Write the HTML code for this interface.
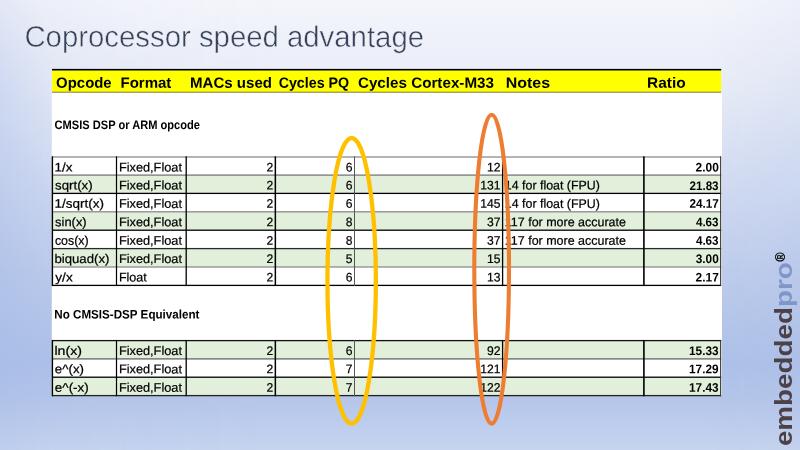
<!DOCTYPE html>
<html lang="en"><head><meta charset="utf-8"><title>Coprocessor speed advantage</title>
<style>
html,body{margin:0;padding:0}
body{width:800px;height:450px;position:relative;overflow:hidden;font-family:"Liberation Sans",sans-serif;background:#d3dcf2;color:#000}
.t{position:absolute;white-space:nowrap;line-height:1;transform-origin:0 0;display:block}
.b{font-weight:bold}
.ti{-webkit-text-stroke:0.5px #eef0f9}
.c{-webkit-text-stroke:0.22px #000}
svg{position:absolute;left:0;top:0}
#logo{position:absolute;left:0;top:0;white-space:nowrap;line-height:1;font-weight:bold;transform-origin:0 0;color:#4d4148}
#logo i{font-style:normal;color:#8096c8}
#reg{position:absolute;left:0;top:0;font-size:12.3px;line-height:1;transform-origin:0 0;color:#000;-webkit-text-stroke:0.35px #000}
</style></head><body>
<svg width="800" height="450" viewBox="0 0 800 450">
<defs>
 <linearGradient id="gv" x1="0" y1="0" x2="0" y2="1">
  <stop offset="0" stop-color="#f4f5fb"/>
  <stop offset="0.2" stop-color="#e8ecf7"/>
  <stop offset="0.4" stop-color="#d3dcf2"/>
  <stop offset="0.6" stop-color="#bfcdec"/>
  <stop offset="0.733" stop-color="#b3c5e9"/>
  <stop offset="0.811" stop-color="#aec1e8"/>
  <stop offset="0.889" stop-color="#b5c6ea"/>
  <stop offset="1" stop-color="#c6d4ef"/>
 </linearGradient>
 <linearGradient id="gl" x1="0" y1="0" x2="800" y2="0" gradientUnits="userSpaceOnUse">
  <stop offset="0" stop-color="#96afe4" stop-opacity="0.31"/>
  <stop offset="0.0625" stop-color="#96afe4" stop-opacity="0.115"/>
  <stop offset="0.16" stop-color="#96afe4" stop-opacity="0.035"/>
  <stop offset="0.35" stop-color="#96afe4" stop-opacity="0"/>
  <stop offset="0.88" stop-color="#96afe4" stop-opacity="0"/>
  <stop offset="1" stop-color="#96afe4" stop-opacity="0.1"/>
 </linearGradient>
 <linearGradient id="gm" x1="0" y1="0" x2="0" y2="1">
  <stop offset="0" stop-color="#fff" stop-opacity="0.55"/>
  <stop offset="0.2" stop-color="#fff" stop-opacity="1"/>
  <stop offset="0.6" stop-color="#fff" stop-opacity="0.95"/>
  <stop offset="0.8" stop-color="#fff" stop-opacity="0.55"/>
  <stop offset="1" stop-color="#fff" stop-opacity="0.45"/>
 </linearGradient>
 <mask id="mk"><rect width="800" height="450" fill="url(#gm)"/></mask>
</defs>
<rect width="800" height="450" fill="url(#gv)"/>
<rect width="800" height="450" fill="url(#gl)" mask="url(#mk)"/>
<rect x="51.80" y="69.00" width="669.40" height="326.90" fill="#fff"/>
<rect x="720.70" y="92.00" width="1.30" height="303.90" fill="#fff"/>
<rect x="52.00" y="70.30" width="669.20" height="21.90" fill="#ffff00"/>
<rect x="52.00" y="68.90" width="669.20" height="1.60" fill="#000"/>
<rect x="52.00" y="91.70" width="669.20" height="0.90" fill="#6a6a30"/>
<rect x="52.00" y="175.10" width="669.20" height="18.30" fill="#e2efda"/>
<rect x="52.00" y="211.80" width="669.20" height="18.40" fill="#e2efda"/>
<rect x="52.00" y="248.60" width="669.20" height="18.40" fill="#e2efda"/>
<rect x="52.00" y="340.60" width="669.20" height="18.30" fill="#e2efda"/>
<rect x="52.00" y="377.20" width="669.20" height="18.40" fill="#e2efda"/>
<rect x="52.00" y="156.35" width="669.20" height="1.30" fill="#8c8c8c"/>
<rect x="52.00" y="174.45" width="669.20" height="1.30" fill="#787878"/>
<rect x="52.00" y="192.75" width="669.20" height="1.30" fill="#000"/>
<rect x="52.00" y="211.15" width="669.20" height="1.30" fill="#8a8a8a"/>
<rect x="52.00" y="229.55" width="669.20" height="1.30" fill="#000"/>
<rect x="52.00" y="247.95" width="669.20" height="1.30" fill="#2a2a2a"/>
<rect x="52.00" y="266.35" width="669.20" height="1.30" fill="#8c8c8c"/>
<rect x="52.00" y="284.75" width="669.20" height="1.30" fill="#000"/>
<rect x="52.00" y="339.95" width="669.20" height="1.30" fill="#111"/>
<rect x="52.00" y="358.25" width="669.20" height="1.30" fill="#666"/>
<rect x="52.00" y="376.55" width="669.20" height="1.30" fill="#000"/>
<rect x="52.00" y="394.95" width="669.20" height="1.30" fill="#222"/>
<rect x="51.70" y="156.35" width="1.40" height="129.70" fill="#000"/>
<rect x="720.10" y="156.35" width="1.10" height="129.70" fill="#333"/>
<rect x="115.90" y="156.35" width="1.20" height="129.70" fill="#000"/>
<rect x="185.55" y="156.35" width="1.30" height="129.70" fill="#000"/>
<rect x="274.60" y="156.35" width="1.50" height="129.70" fill="#000"/>
<rect x="354.00" y="156.35" width="1.00" height="129.70" fill="#555"/>
<rect x="501.95" y="156.35" width="1.30" height="129.70" fill="#000"/>
<rect x="643.10" y="156.35" width="1.60" height="129.70" fill="#000"/>
<rect x="51.70" y="339.95" width="1.40" height="56.30" fill="#000"/>
<rect x="720.10" y="339.95" width="1.10" height="56.30" fill="#333"/>
<rect x="115.90" y="339.95" width="1.20" height="56.30" fill="#000"/>
<rect x="185.55" y="339.95" width="1.30" height="56.30" fill="#000"/>
<rect x="274.60" y="339.95" width="1.50" height="56.30" fill="#000"/>
<rect x="354.00" y="339.95" width="1.00" height="56.30" fill="#555"/>
<rect x="501.95" y="339.95" width="1.30" height="56.30" fill="#000"/>
<rect x="643.10" y="339.95" width="1.60" height="56.30" fill="#000"/>
</svg>
<span class="t ti" style="left:24px;top:21px;font-size:29.65px;transform:translate(0.42px,0.70px) rotate(0.03deg) scaleX(0.9899);color:#36435a;">Coprocessor speed advantage</span>
<span class="t b" style="left:56px;top:75px;font-size:14.83px;transform:translate(0.13px,0.70px) rotate(0.03deg) scaleX(1.0063);">Opcode</span>
<span class="t b" style="left:120px;top:75px;font-size:14.83px;transform:translate(0.46px,0.70px) rotate(0.03deg) scaleX(1.0133);">Format</span>
<span class="t b" style="left:189px;top:75px;font-size:14.83px;transform:translate(0.96px,0.70px) rotate(0.03deg) scaleX(1.0158);">MACs used</span>
<span class="t b" style="left:278px;top:75px;font-size:14.83px;transform:translate(0.65px,0.70px) rotate(0.03deg) scaleX(0.9618);">Cycles PQ</span>
<span class="t b" style="left:357px;top:75px;font-size:14.83px;transform:translate(0.92px,0.70px) rotate(0.03deg) scaleX(1.0256);">Cycles Cortex-M33</span>
<span class="t b" style="left:505px;top:75px;font-size:14.83px;transform:translate(0.70px,0.70px) rotate(0.03deg) scaleX(1.0766);">Notes</span>
<span class="t b" style="left:647px;top:75px;font-size:14.83px;transform:translate(0.04px,0.70px) rotate(0.03deg) scaleX(1.0406);">Ratio</span>
<span class="t b" style="left:54px;top:119px;font-size:12.35px;transform:translate(0.55px,0.00px) rotate(0.03deg) scaleX(0.8982);">CMSIS DSP or ARM opcode</span>
<span class="t b" style="left:54px;top:308px;font-size:12.35px;transform:translate(0.27px,0.50px) rotate(0.03deg) scaleX(0.9420);">No CMSIS-DSP Equivalent</span>
<span class="t c" style="left:54px;top:161px;font-size:12.5px;transform:translate(0.46px,0.45px) rotate(0.03deg) scaleX(1.0759);">1/x</span>
<span class="t c" style="left:118px;top:161px;font-size:12.5px;transform:translate(0.90px,0.45px) rotate(0.03deg) scaleX(1.0198);">Fixed,Float</span>
<span class="t c" style="left:266px;top:161px;font-size:12.5px;transform:translate(0.55px,0.45px) rotate(0.03deg) scaleX(0.9700);">2</span>
<span class="t c" style="left:345px;top:161px;font-size:12.5px;transform:translate(0.75px,0.45px) rotate(0.03deg) scaleX(0.9700);">6</span>
<span class="t c" style="left:487px;top:161px;font-size:12.5px;transform:translate(0.00px,0.45px) rotate(0.03deg) scaleX(0.9700);">12</span>
<span class="t b" style="left:695px;top:161px;font-size:12.5px;transform:translate(0.53px,0.45px) rotate(0.03deg) scaleX(0.9560);">2.00</span>
<span class="t c" style="left:55px;top:179px;font-size:12.5px;transform:translate(0.09px,0.55px) rotate(0.03deg) scaleX(1.0587);">sqrt(x)</span>
<span class="t c" style="left:118px;top:179px;font-size:12.5px;transform:translate(0.90px,0.55px) rotate(0.03deg) scaleX(1.0198);">Fixed,Float</span>
<span class="t c" style="left:266px;top:179px;font-size:12.5px;transform:translate(0.55px,0.55px) rotate(0.03deg) scaleX(0.9700);">2</span>
<span class="t c" style="left:345px;top:179px;font-size:12.5px;transform:translate(0.75px,0.55px) rotate(0.03deg) scaleX(0.9700);">6</span>
<span class="t c" style="left:480px;top:179px;font-size:12.5px;transform:translate(0.26px,0.55px) rotate(0.03deg) scaleX(0.9700);">131</span>
<span class="t c" style="left:504px;top:179px;font-size:12.5px;transform:translate(0.82px,0.55px) rotate(0.03deg) scaleX(0.9922);">14 for float (FPU)</span>
<span class="t b" style="left:689px;top:179px;font-size:12.5px;transform:translate(0.44px,0.55px) rotate(0.03deg) scaleX(0.9320);">21.83</span>
<span class="t c" style="left:54px;top:197px;font-size:12.5px;transform:translate(0.46px,0.85px) rotate(0.03deg) scaleX(1.0809);">1/sqrt(x)</span>
<span class="t c" style="left:118px;top:197px;font-size:12.5px;transform:translate(0.90px,0.85px) rotate(0.03deg) scaleX(1.0198);">Fixed,Float</span>
<span class="t c" style="left:266px;top:197px;font-size:12.5px;transform:translate(0.55px,0.85px) rotate(0.03deg) scaleX(0.9700);">2</span>
<span class="t c" style="left:345px;top:197px;font-size:12.5px;transform:translate(0.75px,0.85px) rotate(0.03deg) scaleX(0.9700);">6</span>
<span class="t c" style="left:480px;top:197px;font-size:12.5px;transform:translate(0.26px,0.85px) rotate(0.03deg) scaleX(0.9700);">145</span>
<span class="t c" style="left:504px;top:197px;font-size:12.5px;transform:translate(0.82px,0.85px) rotate(0.03deg) scaleX(0.9922);">14 for float (FPU)</span>
<span class="t b" style="left:689px;top:197px;font-size:12.5px;transform:translate(0.43px,0.85px) rotate(0.03deg) scaleX(0.9380);">24.17</span>
<span class="t c" style="left:55px;top:216px;font-size:12.5px;transform:translate(0.10px,0.25px) rotate(0.03deg) scaleX(1.0333);">sin(x)</span>
<span class="t c" style="left:118px;top:216px;font-size:12.5px;transform:translate(0.90px,0.25px) rotate(0.03deg) scaleX(1.0198);">Fixed,Float</span>
<span class="t c" style="left:266px;top:216px;font-size:12.5px;transform:translate(0.55px,0.25px) rotate(0.03deg) scaleX(0.9700);">2</span>
<span class="t c" style="left:345px;top:216px;font-size:12.5px;transform:translate(0.75px,0.25px) rotate(0.03deg) scaleX(0.9700);">8</span>
<span class="t c" style="left:487px;top:216px;font-size:12.5px;transform:translate(0.00px,0.25px) rotate(0.03deg) scaleX(0.9700);">37</span>
<span class="t c" style="left:504px;top:216px;font-size:12.5px;transform:translate(0.82px,0.25px) rotate(0.03deg) scaleX(0.9978);">117 for more accurate</span>
<span class="t b" style="left:695px;top:216px;font-size:12.5px;transform:translate(0.90px,0.25px) rotate(0.03deg) scaleX(0.9327);">4.63</span>
<span class="t c" style="left:54px;top:234px;font-size:12.5px;transform:translate(0.91px,0.65px) rotate(0.03deg) scaleX(0.9882);">cos(x)</span>
<span class="t c" style="left:118px;top:234px;font-size:12.5px;transform:translate(0.90px,0.65px) rotate(0.03deg) scaleX(1.0198);">Fixed,Float</span>
<span class="t c" style="left:266px;top:234px;font-size:12.5px;transform:translate(0.55px,0.65px) rotate(0.03deg) scaleX(0.9700);">2</span>
<span class="t c" style="left:345px;top:234px;font-size:12.5px;transform:translate(0.75px,0.65px) rotate(0.03deg) scaleX(0.9700);">8</span>
<span class="t c" style="left:487px;top:234px;font-size:12.5px;transform:translate(0.00px,0.65px) rotate(0.03deg) scaleX(0.9700);">37</span>
<span class="t c" style="left:504px;top:234px;font-size:12.5px;transform:translate(0.82px,0.65px) rotate(0.03deg) scaleX(0.9978);">117 for more accurate</span>
<span class="t b" style="left:695px;top:234px;font-size:12.5px;transform:translate(0.90px,0.65px) rotate(0.03deg) scaleX(0.9327);">4.63</span>
<span class="t c" style="left:54px;top:253px;font-size:12.5px;transform:translate(0.48px,0.05px) rotate(0.03deg) scaleX(1.0536);">biquad(x)</span>
<span class="t c" style="left:118px;top:253px;font-size:12.5px;transform:translate(0.90px,0.05px) rotate(0.03deg) scaleX(1.0198);">Fixed,Float</span>
<span class="t c" style="left:266px;top:253px;font-size:12.5px;transform:translate(0.55px,0.05px) rotate(0.03deg) scaleX(0.9700);">2</span>
<span class="t c" style="left:345px;top:253px;font-size:12.5px;transform:translate(0.75px,0.05px) rotate(0.03deg) scaleX(0.9700);">5</span>
<span class="t c" style="left:487px;top:253px;font-size:12.5px;transform:translate(0.00px,0.05px) rotate(0.03deg) scaleX(0.9700);">15</span>
<span class="t b" style="left:695px;top:253px;font-size:12.5px;transform:translate(0.71px,0.05px) rotate(0.03deg) scaleX(0.9481);">3.00</span>
<span class="t c" style="left:55px;top:271px;font-size:12.5px;transform:translate(0.30px,0.45px) rotate(0.03deg) scaleX(1.0893);">y/x</span>
<span class="t c" style="left:118px;top:271px;font-size:12.5px;transform:translate(0.92px,0.45px) rotate(0.03deg) scaleX(1.0017);">Float</span>
<span class="t c" style="left:266px;top:271px;font-size:12.5px;transform:translate(0.55px,0.45px) rotate(0.03deg) scaleX(0.9700);">2</span>
<span class="t c" style="left:345px;top:271px;font-size:12.5px;transform:translate(0.75px,0.45px) rotate(0.03deg) scaleX(0.9700);">6</span>
<span class="t c" style="left:487px;top:271px;font-size:12.5px;transform:translate(0.00px,0.45px) rotate(0.03deg) scaleX(0.9700);">13</span>
<span class="t b" style="left:695px;top:271px;font-size:12.5px;transform:translate(0.53px,0.45px) rotate(0.03deg) scaleX(0.9560);">2.17</span>
<span class="t c" style="left:54px;top:345px;font-size:12.5px;transform:translate(0.42px,0.05px) rotate(0.03deg) scaleX(1.1322);">ln(x)</span>
<span class="t c" style="left:118px;top:345px;font-size:12.5px;transform:translate(0.90px,0.05px) rotate(0.03deg) scaleX(1.0198);">Fixed,Float</span>
<span class="t c" style="left:266px;top:345px;font-size:12.5px;transform:translate(0.55px,0.05px) rotate(0.03deg) scaleX(0.9700);">2</span>
<span class="t c" style="left:345px;top:345px;font-size:12.5px;transform:translate(0.75px,0.05px) rotate(0.03deg) scaleX(0.9700);">6</span>
<span class="t c" style="left:487px;top:345px;font-size:12.5px;transform:translate(0.00px,0.05px) rotate(0.03deg) scaleX(0.9700);">92</span>
<span class="t b" style="left:689px;top:345px;font-size:12.5px;transform:translate(0.06px,0.05px) rotate(0.03deg) scaleX(0.9441);">15.33</span>
<span class="t c" style="left:54px;top:363px;font-size:12.5px;transform:translate(0.88px,0.35px) rotate(0.03deg) scaleX(1.0624);">e^(x)</span>
<span class="t c" style="left:118px;top:363px;font-size:12.5px;transform:translate(0.90px,0.35px) rotate(0.03deg) scaleX(1.0198);">Fixed,Float</span>
<span class="t c" style="left:266px;top:363px;font-size:12.5px;transform:translate(0.55px,0.35px) rotate(0.03deg) scaleX(0.9700);">2</span>
<span class="t c" style="left:345px;top:363px;font-size:12.5px;transform:translate(0.75px,0.35px) rotate(0.03deg) scaleX(0.9700);">7</span>
<span class="t c" style="left:480px;top:363px;font-size:12.5px;transform:translate(0.26px,0.35px) rotate(0.03deg) scaleX(0.9700);">121</span>
<span class="t b" style="left:689px;top:363px;font-size:12.5px;transform:translate(0.06px,0.35px) rotate(0.03deg) scaleX(0.9441);">17.29</span>
<span class="t c" style="left:54px;top:381px;font-size:12.5px;transform:translate(0.88px,0.65px) rotate(0.03deg) scaleX(1.0748);">e^(-x)</span>
<span class="t c" style="left:118px;top:381px;font-size:12.5px;transform:translate(0.90px,0.65px) rotate(0.03deg) scaleX(1.0198);">Fixed,Float</span>
<span class="t c" style="left:266px;top:381px;font-size:12.5px;transform:translate(0.55px,0.65px) rotate(0.03deg) scaleX(0.9700);">2</span>
<span class="t c" style="left:345px;top:381px;font-size:12.5px;transform:translate(0.75px,0.65px) rotate(0.03deg) scaleX(0.9700);">7</span>
<span class="t c" style="left:480px;top:381px;font-size:12.5px;transform:translate(0.26px,0.65px) rotate(0.03deg) scaleX(0.9700);">122</span>
<span class="t b" style="left:689px;top:381px;font-size:12.5px;transform:translate(0.06px,0.65px) rotate(0.03deg) scaleX(0.9441);">17.43</span>
<svg width="800" height="450" viewBox="0 0 800 450">
 <ellipse cx="351.65" cy="280.8" rx="24.2" ry="142.8" fill="none" stroke="#ffc000" stroke-width="4.3"/>
 <ellipse cx="491.65" cy="269.2" rx="17.35" ry="154.45" fill="none" stroke="#ed7d31" stroke-width="4.1"/>
</svg>
<div id="logo" style="font-size:24.5px;transform:translate(771.5px,446.1px) rotate(-90deg) scaleX(1.135)">embedded<i>pro</i></div>
<div id="reg" style="transform:translate(775.1px,261.5px) rotate(-90deg)">®</div>
</body></html>
